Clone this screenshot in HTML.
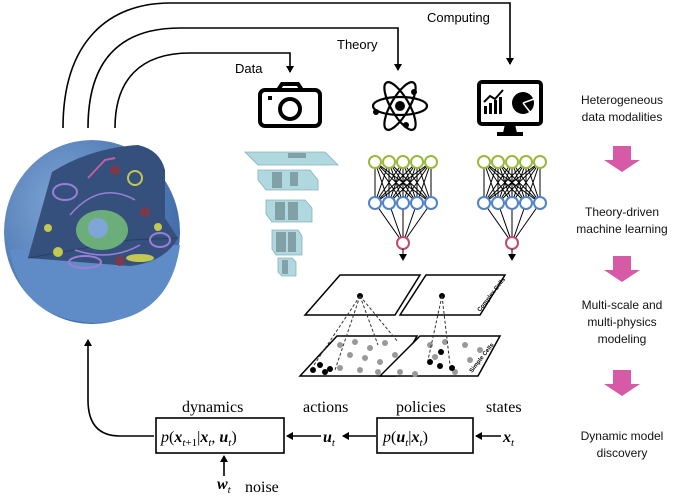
<!DOCTYPE html>
<html><head><meta charset="utf-8"><style>
html,body{margin:0;padding:0;background:#fff;}
svg{display:block;}
.s{font-family:"Liberation Sans",sans-serif;}
.r{font-family:"Liberation Serif",serif;}
</style></head><body>
<svg width="685" height="497" viewBox="0 0 685 497" xmlns="http://www.w3.org/2000/svg">
<defs>
<marker id="a" markerWidth="8" markerHeight="8" refX="6" refY="4" orient="auto" markerUnits="userSpaceOnUse"><path d="M0,0 L7,4 L0,8 Z" fill="#000"/></marker>
<radialGradient id="cg" cx="0.35" cy="0.35" r="0.7"><stop offset="0" stop-color="#7fa6d6"/><stop offset="1" stop-color="#3f6aa8"/></radialGradient>
</defs>
<g fill="none" stroke="#000" stroke-width="1.6">
<path d="M63,128 C63,40 110,3 170,3 L510,3 L510,64" marker-end="url(#a)"/>
<path d="M88,128 C88,60 120,28 180,28 L398,28 L398,70" marker-end="url(#a)"/>
<path d="M115,128 C115,80 140,53 190,53 L290,53 L290,72" marker-end="url(#a)"/>
</g>
<text class="s" x="235" y="73" font-size="13">Data</text>
<text class="s" x="337" y="49" font-size="13">Theory</text>
<text class="s" x="427" y="22" font-size="13">Computing</text>
<rect x="260" y="90" width="60" height="36" rx="5" fill="none" stroke="#000" stroke-width="4"/>
<path d="M278,90 L282,84 L298,84 L302,90" fill="none" stroke="#000" stroke-width="4"/>
<circle cx="290" cy="109" r="10" fill="none" stroke="#000" stroke-width="4"/>
<rect x="268" y="96" width="4" height="4" fill="#000"/>
<g fill="none" stroke="#000" stroke-width="2.2">
<ellipse cx="400" cy="106" rx="27" ry="9"/>
<ellipse cx="400" cy="106" rx="27" ry="9" transform="rotate(60 400 106)"/>
<ellipse cx="400" cy="106" rx="27" ry="9" transform="rotate(-60 400 106)"/>
</g>
<circle cx="400" cy="106" r="5" fill="#000"/>
<circle cx="414" cy="92" r="3" fill="#000"/><circle cx="376" cy="112" r="3" fill="#000"/><circle cx="406" cy="125" r="3" fill="#000"/>
<rect x="479" y="82" width="62" height="42" rx="3" fill="none" stroke="#000" stroke-width="4"/>
<path d="M505,124 L503,133 L517,133 L515,124 Z" fill="#000"/><rect x="497" y="132" width="26" height="4" fill="#000"/>
<rect x="484" y="106" width="3" height="8" fill="#000"/><rect x="489" y="103" width="3" height="11" fill="#000"/><rect x="494" y="100" width="3" height="14" fill="#000"/><rect x="499" y="97" width="3" height="17" fill="#000"/>
<path d="M484,102 L490,96 L495,99 L503,90" fill="none" stroke="#000" stroke-width="2"/>
<circle cx="523" cy="103" r="11" fill="#000"/><path d="M523,103 L534,99 M523,103 L530,112" stroke="#fff" stroke-width="1.5"/>
<!-- cell -->
<ellipse cx="92" cy="232" rx="88" ry="92" fill="url(#cg)"/>
<path d="M10,250 Q20,320 95,323 Q170,320 180,245 Z" fill="#5f8cc6"/>
<path d="M28,258 L52,172 Q90,148 138,145 Q160,150 165,170 L165,218 L178,238 Q165,262 130,266 L28,258 Z" fill="#36507e"/>
<path d="M28,258 L130,240 L178,238" fill="none" stroke="#2a3e62" stroke-width="1"/>
<ellipse cx="102" cy="230" rx="26" ry="20" fill="#6cae7a"/>
<circle cx="98" cy="228" r="10" fill="#7fa6d6"/>
<path d="M70,215 Q100,180 135,200" fill="none" stroke="#9a7fd6" stroke-width="1.5"/>
<path d="M75,250 Q110,262 140,245" fill="none" stroke="#9a7fd6" stroke-width="1.5"/>
<ellipse cx="65" cy="192" rx="12" ry="8" fill="none" stroke="#9a7fd6" stroke-width="2"/>
<ellipse cx="85" cy="262" rx="16" ry="6" fill="none" stroke="#9a7fd6" stroke-width="2"/>
<ellipse cx="160" cy="240" rx="10" ry="7" fill="none" stroke="#9a7fd6" stroke-width="2"/>
<circle cx="135" cy="178" r="7" fill="none" stroke="#c3c850" stroke-width="2"/>
<circle cx="48" cy="228" r="4" fill="#c3c850"/><circle cx="58" cy="252" r="5" fill="#c3c850"/><circle cx="158" cy="227" r="4" fill="#c3c850"/>
<ellipse cx="140" cy="258" rx="14" ry="4" fill="#c3c850"/>
<circle cx="115" cy="170" r="5" fill="#7a3a4a"/><circle cx="120" cy="261" r="5" fill="#7a3a4a"/><circle cx="145" cy="212" r="5" fill="#7a3a4a"/>
<path d="M88,178 L105,160 L115,158" fill="none" stroke="#c060a0" stroke-width="2"/>
<g fill="#d65aa6">
<path d="M613,146 L631,146 L631,160 L640,160 L622,172 L604,160 L613,160 Z"/>
<path d="M613,256 L631,256 L631,270 L640,270 L622,282 L604,270 L613,270 Z"/>
<path d="M613,370 L631,370 L631,384 L640,384 L622,396 L604,384 L613,384 Z"/>
</g>
<g class="s" font-size="12" text-anchor="middle" fill="#111">
<text x="622" y="104">Heterogeneous</text><text x="622" y="121">data modalities</text>
<text x="622" y="216">Theory-driven</text><text x="622" y="233">machine learning</text>
<text x="622" y="309">Multi-scale and</text><text x="622" y="326">multi-physics</text><text x="622" y="343">modeling</text>
<text x="622" y="440">Dynamic model</text><text x="622" y="457">discovery</text>
</g>
<g fill="#a8d4dc" stroke="#7aa8b4" stroke-width="0.8" opacity="0.9">
<path d="M245,152 L325,152 L338,165 L258,165 Z"/>
<path d="M258,170 L310,170 L318,180 L318,190 L266,190 L258,180 Z"/>
<path d="M266,200 L305,200 L312,208 L312,222 L272,222 L266,214 Z"/>
<path d="M272,230 L298,230 L302,236 L302,255 L276,255 L272,249 Z"/>
<path d="M278,258 L292,258 L296,262 L296,276 L282,276 L278,272 Z"/>
</g>
<g fill="#6f8a90" opacity="0.7"><rect x="288" y="153" width="18" height="5"/><rect x="272" y="172" width="10" height="16"/><rect x="290" y="172" width="8" height="14"/><rect x="275" y="202" width="10" height="18"/><rect x="288" y="202" width="10" height="18"/><rect x="276" y="232" width="10" height="20"/><rect x="288" y="232" width="8" height="20"/><rect x="282" y="260" width="6" height="14"/></g>
<g id="nn">
<g stroke="#000" stroke-width="1">
<path d="M375,162 L375,203 M375,162 L389,203 M375,162 L403,203 M375,162 L417,203 M375,162 L431,203 M389,162 L375,203 M389,162 L389,203 M389,162 L403,203 M389,162 L417,203 M389,162 L431,203 M403,162 L375,203 M403,162 L389,203 M403,162 L403,203 M403,162 L417,203 M403,162 L431,203 M417,162 L375,203 M417,162 L389,203 M417,162 L403,203 M417,162 L417,203 M417,162 L431,203 M431,162 L375,203 M431,162 L389,203 M431,162 L403,203 M431,162 L417,203 M431,162 L431,203"/>
<path d="M375,203 L403,243 M389,203 L403,243 M403,203 L403,243 M417,203 L403,243 M431,203 L403,243"/>
</g>
<g fill="#fff" stroke-width="2">
<g stroke="#9ab83e"><circle cx="375" cy="162" r="6"/><circle cx="389" cy="162" r="6"/><circle cx="403" cy="162" r="6"/><circle cx="417" cy="162" r="6"/><circle cx="431" cy="162" r="6"/></g>
<g stroke="#4f82c8"><circle cx="375" cy="203" r="6"/><circle cx="389" cy="203" r="6"/><circle cx="403" cy="203" r="6"/><circle cx="417" cy="203" r="6"/><circle cx="431" cy="203" r="6"/></g>
<circle cx="403" cy="243" r="6" stroke="#c04a6a"/>
</g>
<line x1="403" y1="249" x2="403" y2="260" stroke="#000" stroke-width="1" marker-end="url(#a)"/>
</g>
<use href="#nn" transform="translate(109,0)"/>
<g fill="#fff" stroke="#000" stroke-width="1.5">
<path d="M340,275 L420,275 L395,315 L305,315 Z"/>
<path d="M426,275 L505,275 L480,315 L400,315 Z"/>
<path d="M337,336 L417,336 L395,376 L300,376 Z"/>
<path d="M420,336 L500,336 L478,376 L380,376 Z"/>
</g>
<g fill="#999"><circle cx="340" cy="345" r="3"/><circle cx="355" cy="342" r="3"/><circle cx="370" cy="348" r="3"/><circle cx="385" cy="343" r="3"/><circle cx="350" cy="355" r="3"/><circle cx="365" cy="358" r="3"/><circle cx="380" cy="362" r="3"/><circle cx="395" cy="355" r="3"/><circle cx="340" cy="368" r="3"/><circle cx="360" cy="370" r="3"/><circle cx="378" cy="372" r="3"/><circle cx="430" cy="345" r="3"/><circle cx="445" cy="342" r="3"/><circle cx="465" cy="345" r="3"/><circle cx="480" cy="350" r="3"/><circle cx="435" cy="357" r="3"/><circle cx="470" cy="360" r="3"/><circle cx="400" cy="372" r="3"/><circle cx="415" cy="374" r="3"/><circle cx="455" cy="372" r="3"/></g>
<g fill="#000"><circle cx="360" cy="296" r="3"/><circle cx="442" cy="296" r="3"/><circle cx="313" cy="370" r="3"/><circle cx="320" cy="365" r="3"/><circle cx="330" cy="369" r="3"/><circle cx="325" cy="372" r="3"/><circle cx="430" cy="362" r="3"/><circle cx="441" cy="352" r="3"/><circle cx="440" cy="366" r="3"/><circle cx="452" cy="368" r="3"/></g>
<g stroke="#333" stroke-dasharray="3,2" fill="none" stroke-width="1"><path d="M360,296 L312,368 M360,296 L335,370 M360,296 L378,345 M360,296 L398,342 M442,296 L428,360 M442,296 L450,365"/></g>
<text class="s" x="480" y="312" font-size="6" font-weight="bold" transform="rotate(-52 480 312)">Complex Cells</text>
<text class="s" x="472" y="373" font-size="6" font-weight="bold" transform="rotate(-52 472 373)">Simple Cells</text>
<rect x="156" y="418" width="128" height="35" fill="none" stroke="#000" stroke-width="1.6"/>
<rect x="377" y="418" width="96" height="35" fill="none" stroke="#000" stroke-width="1.6"/>
<g class="r" font-size="16">
<text x="182" y="412">dynamics</text><text x="303" y="412">actions</text><text x="396" y="412">policies</text><text x="486" y="412">states</text>
<text x="161" y="442"><tspan font-style="italic">p</tspan>(<tspan font-weight="bold" font-style="italic">x</tspan><tspan font-size="11" font-style="italic" dy="4">t</tspan><tspan font-size="11" dy="0">+1</tspan><tspan dy="-4">|</tspan><tspan font-weight="bold" font-style="italic">x</tspan><tspan font-size="11" font-style="italic" dy="4">t</tspan><tspan dy="-4">, </tspan><tspan font-weight="bold" font-style="italic">u</tspan><tspan font-size="11" font-style="italic" dy="4">t</tspan><tspan dy="-4">)</tspan></text>
<text x="383" y="442"><tspan font-style="italic">p</tspan>(<tspan font-weight="bold" font-style="italic">u</tspan><tspan font-size="11" font-style="italic" dy="4">t</tspan><tspan dy="-4">|</tspan><tspan font-weight="bold" font-style="italic">x</tspan><tspan font-size="11" font-style="italic" dy="4">t</tspan><tspan dy="-4">)</tspan></text>
<text x="323" y="442"><tspan font-weight="bold" font-style="italic">u</tspan><tspan font-size="11" font-style="italic" dy="4">t</tspan></text>
<text x="503" y="442"><tspan font-weight="bold" font-style="italic">x</tspan><tspan font-size="11" font-style="italic" dy="4">t</tspan></text>
<text x="217" y="489"><tspan font-weight="bold" font-style="italic">w</tspan><tspan font-size="11" font-style="italic" dy="4">t</tspan></text>
<text x="245" y="492">noise</text>
</g>
<g fill="none" stroke="#000" stroke-width="1.6">
<line x1="321" y1="436" x2="287" y2="436" marker-end="url(#a)"/>
<line x1="376" y1="436" x2="343" y2="436" marker-end="url(#a)"/>
<line x1="501" y1="436" x2="476" y2="436" marker-end="url(#a)"/>
<line x1="224" y1="476" x2="224" y2="456" marker-end="url(#a)"/>
<path d="M154,436 L120,436 Q88,436 88,400 L88,340" marker-end="url(#a)"/>
</g>
</svg>
</body></html>
